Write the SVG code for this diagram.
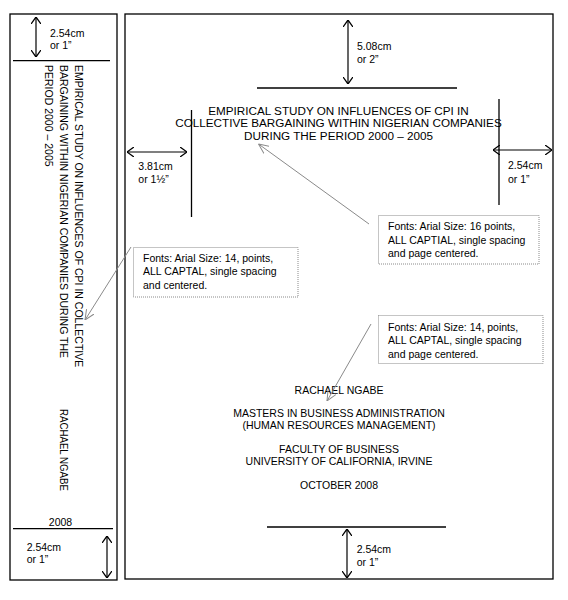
<svg xmlns="http://www.w3.org/2000/svg" width="568" height="600" viewBox="0 0 568 600">
<defs>
<marker id="ah" viewBox="0 0 7 10" refX="7" refY="5" markerWidth="7" markerHeight="10" markerUnits="userSpaceOnUse" orient="auto-start-reverse">
<path d="M0,0 L7,5 L0,10" fill="none" stroke="#000" stroke-width="1.3"/>
</marker>
<marker id="gh" viewBox="0 0 10 10" refX="10" refY="5" markerWidth="10" markerHeight="10" markerUnits="userSpaceOnUse" orient="auto">
<path d="M0,0.5 L10,5 L0,9.5" fill="none" stroke="#8a8a8a" stroke-width="1"/>
</marker>
</defs>
<style>
text{font-family:"Liberation Sans",Arial,sans-serif;fill:#000}
.s{font-size:10.5px}
.t{font-size:11.7px;text-anchor:middle}
.c{font-size:10.5px;text-anchor:middle}
.page{fill:#fff;stroke:#000;stroke-width:1.3}
.ln{stroke:#000;stroke-width:1.3;fill:none}
.dim{stroke:#000;stroke-width:1.2;fill:none;marker-start:url(#ah);marker-end:url(#ah)}
.call{fill:#fff;stroke:#8a8a8a;stroke-width:1;stroke-dasharray:1 1}
.lead{stroke:#8a8a8a;stroke-width:1;fill:none;marker-end:url(#gh)}
</style>
<rect width="568" height="600" fill="#fff"/>

<g id="spine">
<rect class="page" x="10" y="14" width="107" height="566"/>
<line class="ln" x1="13" y1="60.7" x2="110" y2="60.7"/>
<line class="ln" x1="13" y1="528.7" x2="113" y2="528.7"/>
<text class="s" x="50" y="36.5">2.54cm</text>
<text class="s" x="50" y="49">or 1”</text>
<g transform="translate(75,65) rotate(90)">
<text class="s" x="0" y="0">EMPIRICAL STUDY ON INFLUENCES OF CPI IN COLLECTIVE</text>
<text class="s" x="0" y="15">BARGAINING WITHIN NIGERIAN COMPANIES DURING THE</text>
<text class="s" x="0" y="30">PERIOD 2000 – 2005</text>
<text class="s" x="344" y="15" textLength="82" lengthAdjust="spacingAndGlyphs">RACHAEL NGABE</text>
</g>
<text class="s" x="60.5" y="525.5" text-anchor="middle">2008</text>
<text class="s" x="26.7" y="550.5">2.54cm</text>
<text class="s" x="26.7" y="562.5">or 1”</text>
</g>

<g id="page">
<rect class="page" x="125" y="14" width="428" height="565"/>
<line class="ln" x1="257" y1="88" x2="457" y2="88"/>
<line class="ln" x1="191.5" y1="110" x2="191.5" y2="217"/>
<line class="ln" x1="499" y1="99" x2="499" y2="205"/>
<line class="ln" x1="267" y1="527" x2="446" y2="527"/>
<text class="s" x="357" y="49.5">5.08cm</text>
<text class="s" x="357" y="62.5">or 2”</text>
<text class="s" x="138.3" y="170">3.81cm</text>
<text class="s" x="138.3" y="183">or 1½”</text>
<text class="s" x="508" y="169">2.54cm</text>
<text class="s" x="508" y="182.5">or 1”</text>
<text class="s" x="356.7" y="553">2.54cm</text>
<text class="s" x="356.7" y="566">or 1”</text>
</g>

<g id="title">
<text class="t" x="338.5" y="114.5">EMPIRICAL STUDY ON INFLUENCES OF CPI IN</text>
<text class="t" x="338.5" y="126.5">COLLECTIVE BARGAINING WITHIN NIGERIAN COMPANIES</text>
<text class="t" x="338.5" y="139.5">DURING THE PERIOD 2000 – 2005</text>
</g>

<g id="details">
<text class="c" x="339" y="394">RACHAEL NGABE</text>
<text class="c" x="339" y="417">MASTERS IN BUSINESS ADMINISTRATION</text>
<text class="c" x="339" y="428.5">(HUMAN RESOURCES MANAGEMENT)</text>
<text class="c" x="339" y="453">FACULTY OF BUSINESS</text>
<text class="c" x="339" y="465">UNIVERSITY OF CALIFORNIA, IRVINE</text>
<text class="c" x="339" y="489">OCTOBER 2008</text>
</g>

<g id="note-title">
<rect class="call" x="378.5" y="215.5" width="160.5" height="48.5"/>
<text class="s" x="388" y="230">Fonts: Arial Size: 16 points,</text>
<text class="s" x="388" y="243.5">ALL CAPTIAL, single spacing</text>
<text class="s" x="388" y="257">and page centered.</text>
</g>

<g id="note-spine">
<rect class="call" x="133.5" y="247.5" width="164.5" height="49.5"/>
<text class="s" x="143" y="261.5">Fonts: Arial Size: 14, points,</text>
<text class="s" x="143" y="275">ALL CAPTAL, single spacing</text>
<text class="s" x="143" y="288.5">and centered.</text>
</g>

<g id="note-details">
<rect class="call" x="378.5" y="315.5" width="164.5" height="48"/>
<text class="s" x="388" y="330.5">Fonts: Arial Size: 14, points,</text>
<text class="s" x="388" y="344">ALL CAPTAL, single spacing</text>
<text class="s" x="388" y="357.5">and page centered.</text>
</g>

<g id="connectors">
<line class="dim" x1="36" y1="17" x2="36" y2="57"/>
<line class="dim" x1="107" y1="536" x2="107" y2="578"/>
<line class="dim" x1="348" y1="20" x2="348" y2="84"/>
<line class="dim" x1="127" y1="152" x2="187" y2="152"/>
<line class="dim" x1="493" y1="150" x2="552" y2="150"/>
<line class="dim" x1="347" y1="529" x2="347" y2="578"/>
<line class="lead" x1="369" y1="224" x2="258.5" y2="144"/>
<line class="lead" x1="131" y1="247" x2="85" y2="320"/>
<line class="lead" x1="371" y1="324" x2="327" y2="401"/>
</g>
</svg>
